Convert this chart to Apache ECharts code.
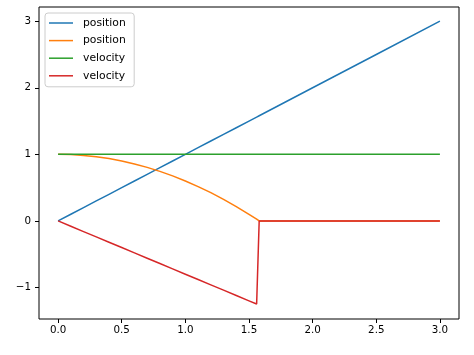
<!DOCTYPE html>
<html><head><meta charset="utf-8">
<script src="https://cdn.jsdelivr.net/npm/echarts@6/dist/echarts.min.js"></script>
<style>html,body{margin:0;padding:0;background:#fff}#c{width:474px;height:355px}</style>
</head><body><div id="c"></div>
<script>
const time = [0, 0.1, 0.2, 0.3, 0.4, 0.5, 0.6, 0.7, 0.8, 0.9, 1.0, 1.1, 1.2, 1.3, 1.4, 1.5, 1.56, 1.58, 2.0, 2.5, 3.0];
const positionA = [0, 0.1, 0.2, 0.3, 0.4, 0.5, 0.6, 0.7, 0.8, 0.9, 1.0, 1.1, 1.2, 1.3, 1.4, 1.5, 1.56, 1.58, 2.0, 2.5, 3.0];
const positionB = [1, 0.996, 0.984, 0.964, 0.936, 0.9, 0.856, 0.804, 0.744, 0.676, 0.6, 0.516, 0.424, 0.324, 0.216, 0.1, 0.027, 0, 0, 0, 0];
const velocityA = [1, 1, 1, 1, 1, 1, 1, 1, 1, 1, 1, 1, 1, 1, 1, 1, 1, 1, 1, 1, 1];
const velocityB = [0, -0.08, -0.16, -0.24, -0.32, -0.4, -0.48, -0.56, -0.64, -0.72, -0.8, -0.88, -0.96, -1.04, -1.12, -1.2, -1.248, 0, 0, 0, 0];
const seriesNames = ['position', 'position', 'velocity', 'velocity'];
const xTicks = [0, 0.5, 1.0, 1.5, 2.0, 2.5, 3.0];
const yTicks = [-1, 0, 1, 2, 3];

const colors = ['#1f77b4', '#ff7f0e', '#2ca02c', '#d62728'];
const values = [positionA, positionB, velocityA, velocityB];
const font = 'DejaVu Sans';
const chart = echarts.init(document.getElementById('c'));
chart.setOption({
  animation: false,
  color: colors,
  grid: { left: 39, right: 15, top: 7, bottom: 36, show: true, borderColor: '#000', borderWidth: 1, backgroundColor: 'transparent' },
  legend: {
    orient: 'vertical', left: 45, top: 13,
    data: seriesNames.map((n, i) => ({ name: n + (i % 2 ? ' ' : '') })),
    icon: 'rect', itemWidth: 24, itemHeight: 1.5, itemGap: 5.6,
    padding: [4, 5, 5, 4],
    borderColor: '#ccc', borderWidth: 1, borderRadius: 3,
    backgroundColor: 'rgba(255,255,255,0.8)',
    textStyle: { fontFamily: font, fontSize: 10.8, color: '#000', lineHeight: 12, padding: [0, 0, 0, 5] }
  },
  xAxis: {
    type: 'value', min: -0.15, max: 3.15,
    axisLine: { show: false, onZero: false },
    splitLine: { show: false },
    axisTick: { show: true, length: 4, lineStyle: { color: '#000' }, customValues: xTicks },
    axisLabel: { customValues: xTicks, margin: 6, fontFamily: font, fontSize: 10.3, color: '#000', formatter: v => v.toFixed(1) }
  },
  yAxis: {
    type: 'value', min: -1.473, max: 3.213,
    axisLine: { show: false, onZero: false },
    splitLine: { show: false },
    axisTick: { show: true, length: 4, lineStyle: { color: '#000' }, customValues: yTicks },
    axisLabel: { customValues: yTicks, margin: 8, fontFamily: font, fontSize: 10.3, color: '#000', formatter: v => String(v).replace('-', '\u2212') }
  },
  series: values.map((vals, i) => ({
    name: seriesNames[i] + (i % 2 ? ' ' : ''),
    type: 'line', symbol: 'none', silent: true,
    lineStyle: { width: 1.5, color: colors[i] },
    itemStyle: { color: colors[i] },
    data: time.map((t, k) => [t, vals[k]])
  }))
});
</script></body></html>
